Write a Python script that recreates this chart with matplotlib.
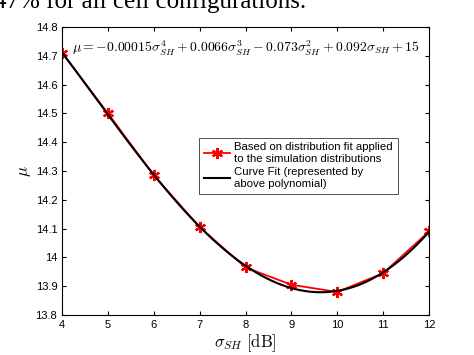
import numpy as np
import matplotlib.pyplot as plt

plt.rcParams['mathtext.fontset'] = 'cm'
plt.rcParams['font.family'] = ['Liberation Sans', 'DejaVu Sans']

sigma_sh = [4, 5, 6, 7, 8, 9, 10, 11, 12]
mu_dist = [14.71, 14.50, 14.285, 14.105, 13.965, 13.905, 13.88, 13.945, 14.09]

# 4th order polynomial fit to the distribution-fit points
coef = np.polyfit(sigma_sh, mu_dist, 4)
xs = np.linspace(4, 12, 200)
ys = np.polyval(coef, xs)

fig = plt.figure(figsize=(4.74, 3.55), dpi=100)
ax = fig.add_axes([0.131, 0.1127, 0.774, 0.8113])

ax.plot(sigma_sh, mu_dist, color='red', marker=(6, 2, 0), markersize=8,
        markeredgewidth=1.6, lw=1.3,
        label='Based on distribution fit applied\nto the simulation distributions')
ax.plot(xs, ys, color='black', lw=1.5,
        label='Curve Fit (represented by\nabove polynomial)')

ax.set_xlim(4, 12)
ax.set_ylim(13.8, 14.8)
ax.set_xticks(range(4, 13))
ax.set_yticks(np.round(np.arange(13.8, 14.81, 0.1), 1))
ax.set_yticklabels(['13.8', '13.9', '14', '14.1', '14.2', '14.3', '14.4',
                    '14.5', '14.6', '14.7', '14.8'])
ax.tick_params(direction='in', top=True, right=True, labelsize=8, length=3)
for s in ax.spines.values():
    s.set_linewidth(0.8)

ax.set_xlabel(r'$\sigma_{SH}\ [\mathrm{dB}]$', fontsize=12, labelpad=2)
ax.set_ylabel(r'$\mu$', fontsize=12, labelpad=2)

ax.text(0.027, 0.925,
        r'$\mu=-0.00015\sigma_{SH}^4+0.0066\sigma_{SH}^3-0.073\sigma_{SH}^2+0.092\sigma_{SH}+15$',
        transform=ax.transAxes, fontsize=9.9, va='center')

leg = ax.legend(loc='upper left', bbox_to_anchor=(0.358, 0.635), fontsize=8.2,
                frameon=True, fancybox=False, edgecolor='black',
                handlelength=2.3, borderpad=0.4, labelspacing=0.3,
                handletextpad=0.4)
leg.get_frame().set_linewidth(0.6)

fig.text(-0.012, 0.977, '47% for all cell configurations.', fontsize=18,
         family='Liberation Serif', va='baseline')

fig.savefig('out.png', dpi=100)
